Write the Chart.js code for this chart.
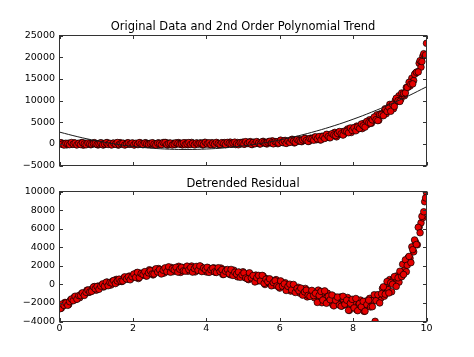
<!DOCTYPE html>
<html><head><meta charset="utf-8">
<script src="https://cdn.jsdelivr.net/npm/chart.js@4/dist/chart.umd.min.js"></script>
<style>
html,body{margin:0;padding:0;background:#fff;}
#topChart{position:absolute;left:0;top:0;}
#botChart{position:absolute;left:0;top:170px;}
</style></head><body>
<canvas id="topChart" width="474" height="178"></canvas>
<canvas id="botChart" width="474" height="187"></canvas>
<script>
const titleTop = 'Original Data and 2nd Order Polynomial Trend';
const titleBottom = 'Detrended Residual';
const xTicks = [0, 2, 4, 6, 8, 10];
const yTicksTop = [-5000, 0, 5000, 10000, 15000, 20000, 25000];
const yTicksBottom = [-4000, -2000, 0, 2000, 4000, 6000, 8000, 10000];

// sample positions, first pass
const xValuesA = [
0,0.05,0.1,0.15,0.2,0.25,0.3,0.35,0.4,0.45,0.5,0.55,0.6,0.65,0.7,0.75,0.8,0.85,0.9,0.95,
1,1.05,1.1,1.15,1.2,1.25,1.3,1.35,1.4,1.45,1.5,1.55,1.6,1.65,1.7,1.75,1.8,1.85,1.9,1.95,
2,2.05,2.1,2.15,2.2,2.25,2.3,2.35,2.4,2.45,2.5,2.55,2.6,2.65,2.7,2.75,2.8,2.85,2.9,2.95,
3,3.05,3.1,3.15,3.2,3.25,3.3,3.35,3.4,3.45,3.5,3.55,3.6,3.65,3.7,3.75,3.8,3.85,3.9,3.95,
4,4.05,4.1,4.15,4.2,4.25,4.3,4.35,4.4,4.45,4.5,4.55,4.6,4.65,4.7,4.75,4.8,4.85,4.9,4.95,
5,5.05,5.1,5.15,5.2,5.25,5.3,5.35,5.4,5.45,5.5,5.55,5.6,5.65,5.7,5.75,5.8,5.85,5.9,5.95,
6,6.05,6.1,6.15,6.2,6.25,6.3,6.35,6.4,6.45,6.5,6.55,6.6,6.65,6.7,6.75,6.8,6.85,6.9,6.95,
7,7.05,7.1,7.15,7.2,7.25,7.3,7.35,7.4,7.45,7.5,7.55,7.6,7.65,7.7,7.75,7.8,7.85,7.9,7.95,
8,8.05,8.1,8.15,8.2,8.25,8.3,8.35,8.4,8.45,8.5,8.55,8.6,8.65,8.7,8.75,8.8,8.85,8.9,8.95,
9,9.05,9.1,9.15,9.2,9.25,9.3,9.35,9.4,9.45,9.5,9.55,9.6,9.65,9.7,9.75,9.8,9.85,9.9,9.95,
10];

// sample positions, second pass
const xValuesB = [
0.025,0.075,0.125,0.175,0.225,0.275,0.325,0.375,0.425,0.475,0.525,0.575,0.625,0.675,0.725,0.775,0.825,0.875,0.925,0.975,
1.025,1.075,1.125,1.175,1.225,1.275,1.325,1.375,1.425,1.475,1.525,1.575,1.625,1.675,1.725,1.775,1.825,1.875,1.925,1.975,
2.025,2.075,2.125,2.175,2.225,2.275,2.325,2.375,2.425,2.475,2.525,2.575,2.625,2.675,2.725,2.775,2.825,2.875,2.925,2.975,
3.025,3.075,3.125,3.175,3.225,3.275,3.325,3.375,3.425,3.475,3.525,3.575,3.625,3.675,3.725,3.775,3.825,3.875,3.925,3.975,
4.025,4.075,4.125,4.175,4.225,4.275,4.325,4.375,4.425,4.475,4.525,4.575,4.625,4.675,4.725,4.775,4.825,4.875,4.925,4.975,
5.025,5.075,5.125,5.175,5.225,5.275,5.325,5.375,5.425,5.475,5.525,5.575,5.625,5.675,5.725,5.775,5.825,5.875,5.925,5.975,
6.025,6.075,6.125,6.175,6.225,6.275,6.325,6.375,6.425,6.475,6.525,6.575,6.625,6.675,6.725,6.775,6.825,6.875,6.925,6.975,
7.025,7.075,7.125,7.175,7.225,7.275,7.325,7.375,7.425,7.475,7.525,7.575,7.625,7.675,7.725,7.775,7.825,7.875,7.925,7.975,
8.025,8.075,8.125,8.175,8.225,8.275,8.325,8.375,8.425,8.475,8.525,8.575,8.625,8.675,8.725,8.775,8.825,8.875,8.925,8.975,
9.025,9.075,9.125,9.175,9.225,9.275,9.325,9.375,9.425,9.475,9.525,9.575,9.625,9.675,9.725,9.775,9.825,9.875,9.925,9.975];

const originalValuesA = [
-30,240,-150,60,-240,150,0,-120,210,-180,90,-60,270,-300,150,-90,120,-210,30,270,-90,-270,180,
190,-260,-80,280,40,-200,130,-80,160,-290,280,-50,100,-170,220,-110,10,160,-230,70,-140,250,-20,
-10,260,-130,80,-220,170,20,-100,230,-160,110,-40,290,-280,170,-70,140,-190,50,290,-70,-250,200,
230,-220,-40,320,80,-160,170,-40,200,-250,320,-10,140,-130,260,-70,50,200,-190,110,-100,290,20,
64,393,-70,187,-168,308,135,-1,402,-58,273,103,506,-168,380,102,365,-19,281,581,162,-40,516,
269,690,122,455,24,628,424,266,784,223,653,510,1035,212,921,595,950,495,895,1295,805,585,1310,1045,1510,
950,1440,910,1760,1540,1380,2130,1440,2080,1880,2640,1610,2620,2260,2800,2230,2830,3430,2840,2610,3660,3390,4090,3480,4080,
3510,4750,4560,4460,5560,4750,5710,5560,6700,5460,6950,6610,7490,6940,7930,9100,8280,8080,10000,9750,
11100,10300,11550,11100,13000,13100,13350,15150,14600,16300,16600,18600,17700,20200,20500,23200];

const originalValuesB = [
229,-91,-283,133,37,-187,293,-59,165,-251,101,-155,261,-27,-219,197,5,-123,69,
74,-118,10,202,-214,-22,266,-150,106,-246,170,-54,298,-182,42,138,-278,-86,234,
-49,175,-241,111,-145,271,-17,-209,207,15,-113,79,239,-81,-273,143,47,-177,303,
318,-162,62,158,-258,-66,254,94,-98,30,222,-194,-2,286,-130,126,-226,190,-34,
173,80,-141,342,-7,220,-193,163,-89,331,47,-141,279,92,
-171,326,102,-45,188,383,10,-211,291,184,-74,503,94,368,-117,310,15,519,189,-27,
479,263,125,368,573,208,-4,508,412,165,
845,339,697,97,649,320,999,598,343,1001,750,598,926,1206,771,533,1207,1113,832,1632,
1155,1680,905,1695,1255,2185,1690,1395,2340,2050,1895,2395,2835,2305,2020,2970,2895,2565,3670,3095,3700,3010,3890,3545,4575,
4165,3860,5180,4890,4775,5520,6190,5595,5355,6745,6785,6500,8100,7505,8450,
7510,9110,8640,10505,9965,9780,11735,11625,11760,13020,14195,13770,13835,16040,16510,16590,19190,18980,20800,20520];

const trendX = [0,0.5,1,1.5,2,2.5,3,3.5,4,4.5,5,5.5,6,6.5,7,7.5,8,8.5,9,9.5,10];
const trendValues = [2711,1633,723,-19,-591,-996,-1232,-1299,-1198,-928,-490,116,891,1835,2947,4228,5677,7294,9080,11035,13158];

const residualValuesA = [
-2400,-2565,-2255,-1945,-2135,-2175,-1680,-1735,-1390,-1595,
-1300,-1440,-1005,-1020,-1010,-625,-866,-557,-598,-239,
-630,-189,-323,-82,-291,-25,241,7,-77,364,
255,536,267,498,304,685,612,564,891,618,
925,802,1239,626,1203,975,1264,923,1247,1571,
1195,1015,1570,1355,1700,1275,1542,1214,1691,1538,
1420,1819,1378,1707,1546,1945,1286,1817,1543,1794,
1415,1695,1975,1555,1345,1870,1617,1924,1461,1698,
1340,1775,1580,1420,1785,1310,1599,1398,1757,1066,
1565,1249,1458,1037,1281,1525,1063,811,1294,1007,
1360,731,1002,508,1049,780,552,999,366,723,
450,891,-18,603,189,450,-99,207,513,-81,
-405,210,-165,180,-465,-210,-724,-203,-492,-736,
-305,-946,-597,-878,-439,-1350,-735,-1155,-900,-1455,
-1130,-620,-1510,-1980,-980,-1520,-940,-1900,-1460,-2210,
-1350,-1750,-2080,-1360,-2320,-1740,-2140,-1420,-2800,-1800,
-2410,-1950,-2750,-2220,-1690,-2560,-2910,-1790,-2210,-1510,
-2350,-1700,-3980,-1170,-1360,-1520,-440,-1280,-360,-560,
520,-800,600,160,920,240,1200,2160,1520,1360,
2880,2820,4040,3500,4560,4260,6160,6620,7160,8900,
9900];

const residualValuesB = [
-2613,-2111,-2281,-2003,-2257,-1862,-1574,-1762,-1278,-1606,
-1211,-1213,-907,-1189,-855,-618,-814,-758,-282,-478,
-235,-533,-187,47,-195,235,-147,199,153,415,
84,364,560,336,364,810,582,802,490,822,
1112,746,1292,736,1168,1064,1374,886,1234,1468,
1125,1117,1679,1329,1587,1119,1521,1771,1375,1891,
1301,1695,1557,1837,1319,1633,1829,1455,1423,1961,
1584,1812,1318,1698,1926,1504,1990,1374,1746,1586,
1838,1286,1570,1740,1340,1279,1785,1379,1581,1061,
1410,1602,1148,1606,962,1303,1109,1333,759,1021,
1228,684,590,1246,702,956,258,710,962,364,
963,109,555,301,597,-157,189,385,-169,-273,
370,-190,50,-660,-220,18,-596,-10,-874,-438,
-698,-404,-1160,-816,-622,-1180,-1290,-650,-1210,-970,
-1945,-1195,-765,-1695,-705,-2035,-1285,-1655,-1145,-2315,
-1725,-1375,-2225,-2355,-1285,-2135,-1705,-2795,-2045,-1615,
-2535,-1525,-2835,-2065,-2415,-1835,-2885,-2175,-1705,-2435,
-2400,-1120,-1760,-1120,-2000,-1010,-270,-1060,310,-930,
170,10,840,-220,700,1410,830,1060,2640,2060,
3010,2340,3740,4780,4290,6140,5560,7320,7820,9310];

const FONT = 'DejaVu Sans';
const minus = v => String(v).replace('-', '\u2212');

const framePlugin = {
  id: 'frame',
  afterDatasetsDraw(chart) {
    const {ctx, chartArea: a, scales: {x, y}} = chart;
    const L = 3.5;
    ctx.save();
    ctx.strokeStyle = '#333';
    ctx.lineWidth = 1;
    ctx.beginPath();
    x.ticks.forEach(t => {
      const p = Math.round(x.getPixelForValue(t.value)) + 0.5;
      ctx.moveTo(p, a.bottom); ctx.lineTo(p, a.bottom - L);
      ctx.moveTo(p, a.top); ctx.lineTo(p, a.top + L);
    });
    y.ticks.forEach(t => {
      const p = Math.round(y.getPixelForValue(t.value)) + 0.5;
      ctx.moveTo(a.left, p); ctx.lineTo(a.left + L, p);
      ctx.moveTo(a.right, p); ctx.lineTo(a.right - L, p);
    });
    ctx.stroke();
    ctx.strokeRect(a.left, a.top, a.right - a.left, a.bottom - a.top);
    ctx.restore();
  }
};

function makeOptions(title, titlePad, yMin, yMax, yTicks, xHeight, showX) {
  return {
    responsive: false,
    animation: false,
    events: [],
    layout: {padding: {left: 0, right: 47.5, top: 0, bottom: 0}},
    plugins: {
      legend: {display: false},
      tooltip: {enabled: false},
      title: {
        display: true, text: title, color: '#000', fullSize: false,
        font: {family: FONT, size: 11.5, weight: 'normal', lineHeight: '14px'},
        padding: titlePad
      }
    },
    scales: {
      x: {
        type: 'linear', min: 0, max: 10,
        grid: {display: false, drawTicks: false},
        border: {display: false},
        afterBuildTicks: s => { s.ticks = xTicks.map(v => ({value: v})); },
        afterFit: s => { s.height = xHeight; },
        ticks: {display: showX, color: '#000', padding: 1.5, maxRotation: 0,
                font: {family: FONT, size: 9.5}, callback: v => minus(v)}
      },
      y: {
        type: 'linear', min: yMin, max: yMax,
        grid: {display: false, drawTicks: false},
        border: {display: false},
        afterBuildTicks: s => { s.ticks = yTicks.map(v => ({value: v})); },
        afterFit: s => { s.width = 59.5; },
        ticks: {color: '#000', padding: 4.5,
                font: {family: FONT, size: 9.5}, callback: v => minus(v)}
      }
    }
  };
}

const pointStyle = {
  backgroundColor: '#e60000', borderColor: '#000', borderWidth: 0.7,
  pointRadius: 3.3, clip: 0, order: 1
};
const pts = (xs, ys) => xs.map((x, i) => ({x, y: ys[i]}));

new Chart(document.getElementById('topChart'), {
  type: 'scatter',
  data: {
    datasets: [
      {type: 'line', data: pts(trendX, trendValues),
       borderColor: '#1a1a1a', borderWidth: 1, pointRadius: 0, tension: 0.4,
       fill: false, clip: 0, order: 0},
      Object.assign({data: pts(xValuesA, originalValuesA).concat(pts(xValuesB, originalValuesB))}, pointStyle)
    ]
  },
  options: makeOptions(titleTop, {top: 20, bottom: 1.5}, -5000, 25000, yTicksTop, 12.5, false),
  plugins: [framePlugin]
});

new Chart(document.getElementById('botChart'), {
  type: 'scatter',
  data: {
    datasets: [
      Object.assign({data: pts(xValuesA, residualValuesA).concat(pts(xValuesB, residualValuesB))}, pointStyle)
    ]
  },
  options: makeOptions(titleBottom, {top: 7, bottom: 0.5}, -4000, 10000, yTicksBottom, 35.5, true),
  plugins: [framePlugin]
});
</script>
</body></html>
